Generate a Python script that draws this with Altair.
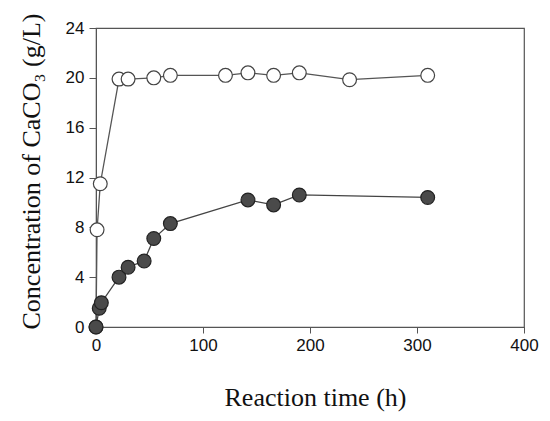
import altair as alt
import pandas as pd

# Open circles series
open_time = [0, 1, 4, 21.5, 30, 54, 69.5, 121, 142, 166, 190, 237, 310]
open_conc = [0, 7.8, 11.5, 19.9, 19.9, 20.0, 20.2, 20.2, 20.4, 20.2, 20.4, 19.85, 20.2]

# Filled circles series
fill_time = [0, 3, 5, 21.5, 30, 45, 54, 69.5, 142, 166, 190, 310]
fill_conc = [0, 1.5, 1.95, 4.0, 4.8, 5.3, 7.1, 8.3, 10.2, 9.8, 10.6, 10.4]

x_ticks = [0, 100, 200, 300, 400]
y_ticks = [0, 4, 8, 12, 16, 20, 24]

df_open = pd.DataFrame({"t": open_time, "c": open_conc})
df_fill = pd.DataFrame({"t": fill_time, "c": fill_conc})

xs = alt.Scale(domain=[0, 400], nice=False, zero=False)
ys = alt.Scale(domain=[0, 24], nice=False)

x_axis = alt.Axis(
    values=x_ticks, title="Reaction time (h)", grid=False, labelFlush=False,
    labelFont="Liberation Sans", labelFontSize=17, labelColor="#111",
    labelPadding=4, tickSize=6, tickColor="#555", domainColor="#555",
    titleFont="Liberation Serif", titleFontSize=26, titleFontWeight="normal",
    titleColor="#111", titleX=219, titleY=78, titleBaseline="alphabetic",
)
y_axis = alt.Axis(
    values=y_ticks, title="Concentration of CaCO₃ (g/L)", grid=False, labelFlush=False,
    labelFont="Liberation Sans", labelFontSize=17, labelColor="#111",
    labelPadding=5, tickSize=7, tickColor="#555", domainColor="#555",
    titleFont="Liberation Serif", titleFontSize=26, titleFontWeight="normal",
    titleColor="#111", titleX=-57, titleY=143, titleBaseline="alphabetic",
    titleAngle=270,
)

enc_x = alt.X("t:Q", scale=xs, axis=x_axis)
enc_y = alt.Y("c:Q", scale=ys, axis=y_axis)

open_line = alt.Chart(df_open).mark_line(color="#555", strokeWidth=1.3).encode(x=enc_x, y=enc_y)
open_pts = alt.Chart(df_open).mark_point(
    shape="circle", filled=True, fill="white", stroke="#444", strokeWidth=1.2,
    size=190, opacity=1,
).encode(x="t:Q", y="c:Q")
fill_line = alt.Chart(df_fill).mark_line(color="#444", strokeWidth=1.3).encode(x="t:Q", y="c:Q")
fill_pts = alt.Chart(df_fill).mark_point(
    shape="circle", filled=True, fill="#4a4a4a", stroke="#222", strokeWidth=1.2,
    size=190, opacity=1,
).encode(x="t:Q", y="c:Q")

chart = alt.layer(open_line, open_pts, fill_line, fill_pts).properties(
    width=428, height=299,
    autosize=alt.AutoSizeParams(type="none"),
    padding={"left": 88, "top": 20, "right": 18, "bottom": 86},
    background="white",
).configure_view(stroke="#555", strokeWidth=1.2)

chart.save("out.html", embed_options={"renderer": "svg", "actions": False})
